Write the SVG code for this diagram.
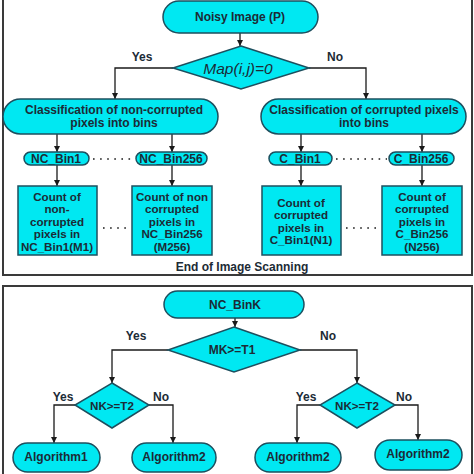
<svg xmlns="http://www.w3.org/2000/svg" width="474" height="474" viewBox="0 0 474 474">
<defs>
<marker id="ah" viewBox="0 0 10 10" refX="10" refY="5" markerWidth="6" markerHeight="6" orient="auto" markerUnits="userSpaceOnUse">
<path d="M0,0 L10,5 L0,10 z" fill="#1a1a1a"/>
</marker>
<style>
.frame{fill:#ffffff;stroke:#3a3a3a;stroke-width:2}
.n{fill:#00e8f2;stroke:#1d4f5e;stroke-width:1.5}
.t{font-family:"Liberation Sans",Arial,sans-serif;font-weight:bold;font-size:12px;fill:#1c2b36;text-anchor:middle;dominant-baseline:central}
.s{font-size:11.6px}
.c{fill:none;stroke:#1a1a1a;stroke-width:1.3;marker-end:url(#ah)}
.d{fill:none;stroke:#1a1a1a;stroke-width:1.6;stroke-dasharray:1.6 5.5}
</style>
</defs>
<rect width="474" height="474" fill="#ffffff"/>
<rect class="frame" x="3" y="-5" width="469" height="280"/>
<rect class="frame" x="3" y="286" width="469" height="200"/>

<g id="connectors">
<path class="c" d="M240,33 V46"/>
<path class="c" d="M173,68 H115 V99"/>
<path class="c" d="M309,68 H366 V99"/>
<path class="c" d="M57,134 V152"/>
<path class="c" d="M172,134 V152"/>
<path class="c" d="M301,134 V152"/>
<path class="c" d="M422,134 V152"/>
<path class="c" d="M57,165 V186"/>
<path class="c" d="M172,165 V186"/>
<path class="c" d="M301,165 V186"/>
<path class="c" d="M422,165 V186"/>
<path class="d" d="M93,159 H134"/>
<path class="d" d="M336,159 H387"/>
<path class="d" d="M103,228 H131"/>
<path class="d" d="M346,228 H380"/>
<path class="c" d="M235,318 V327"/>
<path class="c" d="M168,350 H112 V383"/>
<path class="c" d="M300,350 H357 V383"/>
<path class="c" d="M75,405 H54 V443"/>
<path class="c" d="M149,405 H173 V443"/>
<path class="c" d="M320,405 H297 V443"/>
<path class="c" d="M395,405 H418 V440"/>
</g>

<g id="noisy"><rect class="n" x="163" y="1" width="155" height="32" rx="16"/><text class="t" x="240" y="17">Noisy Image (P)</text></g>
<g id="map"><polygon class="n" points="241,46 309,68 241,89 173,68"/><text x="238" y="68" style="font-family:'Liberation Sans',Arial,sans-serif;font-style:italic;font-size:15.5px;fill:#1c2b36;text-anchor:middle;dominant-baseline:central">Map(i,j)=0</text></g>
<text class="t" x="142" y="57">Yes</text>
<text class="t" x="335" y="57">No</text>

<g id="cls-nc"><rect class="n" x="3" y="99" width="215" height="35" rx="17.5"/><text class="t" x="114" y="110">Classification of non-corrupted</text><text class="t" x="114" y="123">pixels into bins</text></g>
<g id="cls-c"><rect class="n" x="261" y="99" width="205" height="35" rx="17.5"/><text class="t" x="364" y="110">Classification of corrupted pixels</text><text class="t" x="364" y="123">into bins</text></g>

<g id="ncbin1"><rect class="n" x="24" y="152" width="65" height="13" rx="6.5"/><text class="t" x="56" y="158.5">NC_Bin1</text></g>
<g id="ncbin256"><rect class="n" x="136" y="152" width="71" height="13" rx="6.5"/><text class="t" x="171" y="158.5">NC_Bin256</text></g>
<g id="cbin1"><rect class="n" x="269" y="152" width="63" height="13" rx="6.5"/><text class="t" x="300" y="158.5">C_Bin1</text></g>
<g id="cbin256"><rect class="n" x="389" y="152" width="65" height="13" rx="6.5"/><text class="t" x="421" y="158.5">C_Bin256</text></g>

<g id="box1"><rect class="n" x="18" y="186" width="79" height="69"/>
<text class="t s" x="57" y="196">Count of</text><text class="t s" x="57" y="208.5">non-</text><text class="t s" x="57" y="221">corrupted</text><text class="t s" x="57" y="233.5">pixels in</text><text class="t s" x="57" y="246">NC_Bin1(M1)</text></g>
<g id="box2"><rect class="n" x="132" y="186" width="80" height="69"/>
<text class="t s" x="172" y="196">Count of non</text><text class="t s" x="172" y="208.5">corrupted</text><text class="t s" x="172" y="221">pixels in</text><text class="t s" x="172" y="233.5">NC_Bin256</text><text class="t s" x="172" y="246">(M256)</text></g>
<g id="box3"><rect class="n" x="262" y="186" width="79" height="69"/>
<text class="t s" x="301" y="202">Count of</text><text class="t s" x="301" y="214.5">corrupted</text><text class="t s" x="301" y="227">pixels in</text><text class="t s" x="301" y="239.5">C_Bin1(N1)</text></g>
<g id="box4"><rect class="n" x="382" y="186" width="80" height="69"/>
<text class="t s" x="422" y="196">Count of</text><text class="t s" x="422" y="208.5">corrupted</text><text class="t s" x="422" y="221">pixels in</text><text class="t s" x="422" y="233.5">C_Bin256</text><text class="t s" x="422" y="246">(N256)</text></g>

<text class="t" x="242" y="267">End of Image Scanning</text>

<g id="ncbink"><rect class="n" x="164" y="291" width="140" height="27" rx="13.5"/><text class="t" x="235" y="304.5">NC_BinK</text></g>
<g id="mk"><polygon class="n" points="234,327 300,350 234,372 168,350"/><text class="t" x="232" y="350">MK&gt;=T1</text></g>
<text class="t" x="136" y="336">Yes</text>
<text class="t" x="328" y="336">No</text>

<g id="nk1"><polygon class="n" points="112,383 149,405 112,428 75,405"/><text class="t s" x="112" y="405">NK&gt;=T2</text></g>
<g id="nk2"><polygon class="n" points="357,383 395,405 357,428 320,405"/><text class="t s" x="357" y="405">NK&gt;=T2</text></g>
<text class="t" x="63" y="397">Yes</text>
<text class="t" x="161" y="397">No</text>
<text class="t" x="306" y="397">Yes</text>
<text class="t" x="404" y="397">No</text>

<g id="alg1"><rect class="n" x="13" y="443" width="87" height="29" rx="14.5"/><text class="t" x="56" y="457">Algorithm1</text></g>
<g id="alg2a"><rect class="n" x="132" y="443" width="84" height="29" rx="14.5"/><text class="t" x="174" y="457">Algorithm2</text></g>
<g id="alg2b"><rect class="n" x="255" y="443" width="86" height="29" rx="14.5"/><text class="t" x="298" y="457">Algorithm2</text></g>
<g id="alg2c"><rect class="n" x="375" y="440" width="87" height="30" rx="15"/><text class="t" x="418" y="454">Algorithm2</text></g>
</svg>
